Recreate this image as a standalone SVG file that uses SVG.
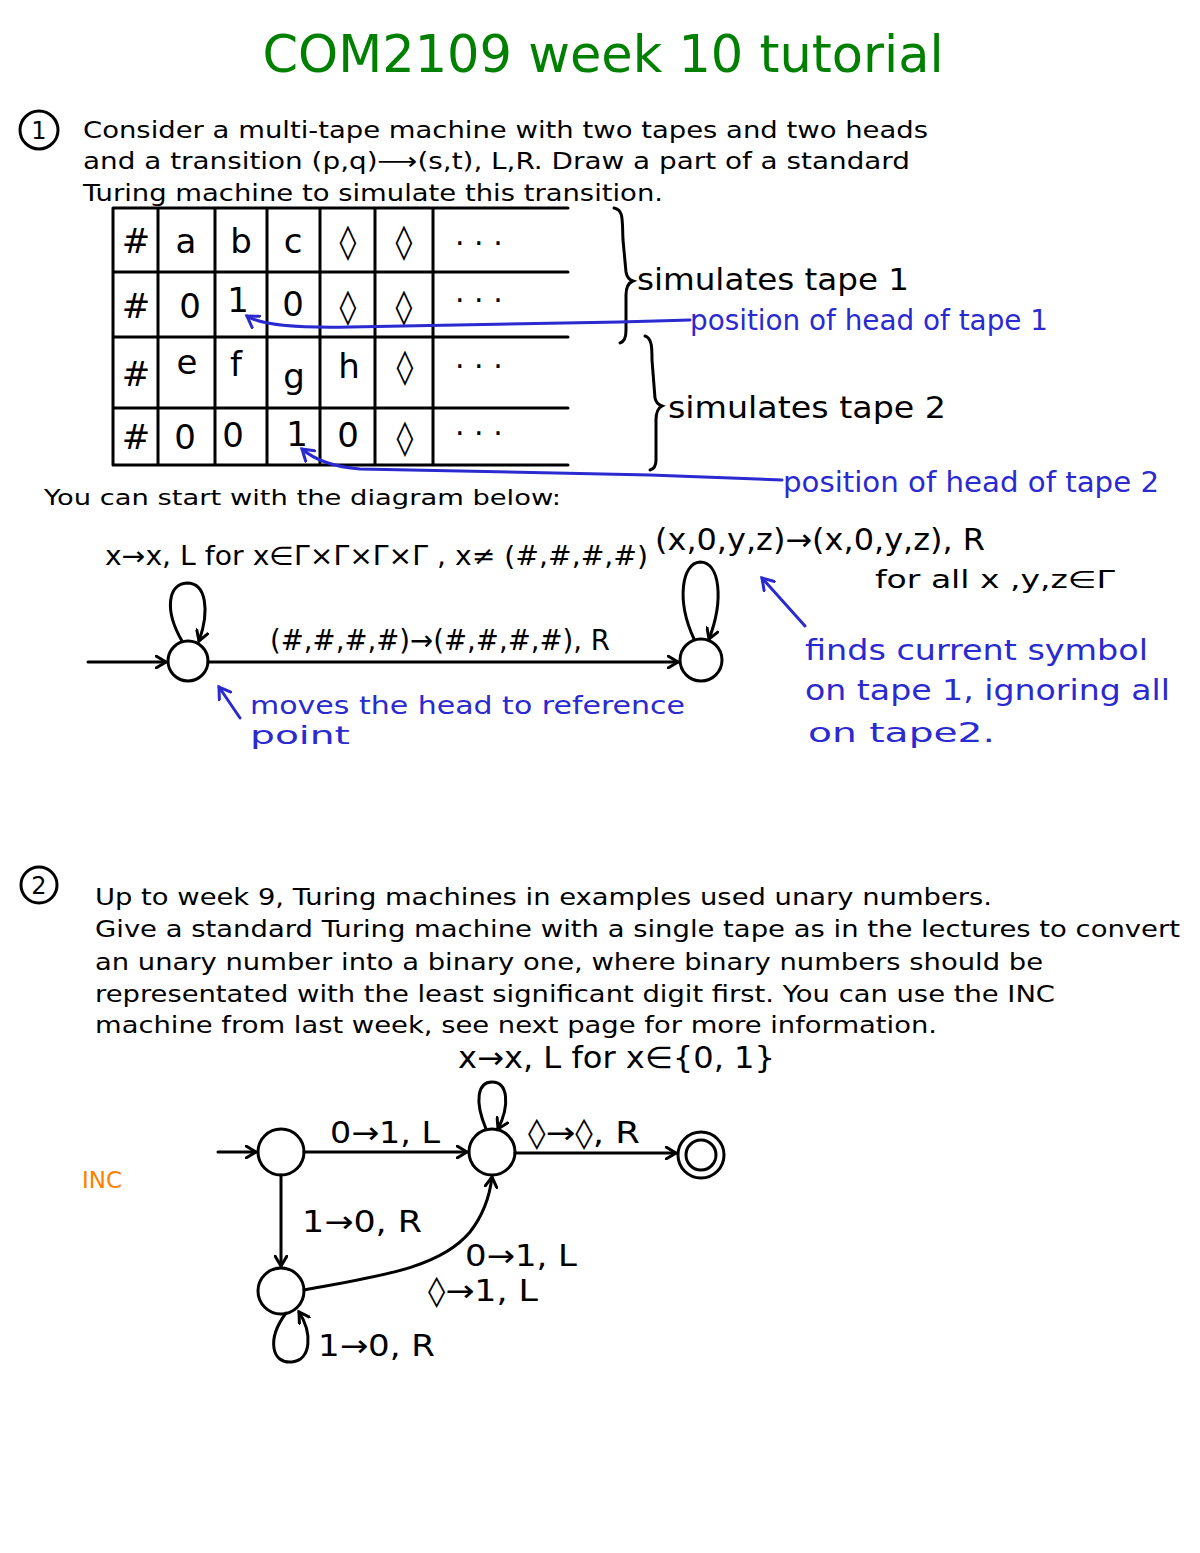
<svg xmlns="http://www.w3.org/2000/svg" width="1200" height="1553" viewBox="0 0 1200 1553">
<style>
.t{font-family:"DejaVu Sans","Liberation Sans",sans-serif;fill:#000}
.q{font-size:23.5px}
.h{font-family:"DejaVu Sans","Liberation Sans",sans-serif;fill:#000}
.b{font-family:"DejaVu Sans","Liberation Sans",sans-serif;fill:#2a2ad0}
.ln{stroke:#000;stroke-width:3;fill:none;stroke-linecap:round}
.bl{stroke:#2a2ad0;stroke-width:3;fill:none;stroke-linecap:round}
.st{stroke:#000;stroke-width:3;fill:#fff}
.cell{font-size:34px;text-anchor:middle}
</style>
<defs>
<marker id="ah" markerWidth="14" markerHeight="14" refX="11" refY="7" orient="auto" markerUnits="userSpaceOnUse">
<path d="M1,1 L11,7 L1,13" fill="none" stroke="#000" stroke-width="3" stroke-linecap="round"/>
</marker>
<marker id="ahb" markerWidth="16" markerHeight="16" refX="12" refY="8" orient="auto" markerUnits="userSpaceOnUse">
<path d="M1,1 L12,8 L1,15" fill="none" stroke="#2a2ad0" stroke-width="3" stroke-linecap="round"/>
</marker>
</defs>
<rect width="1200" height="1553" fill="#fff"/>

<g id="title"><text x="603" y="72" text-anchor="middle" class="t" style="font-size:51px;fill:#008000">COM2109 week 10 tutorial</text></g>

<g id="q1-number"><circle cx="39" cy="130" r="19" fill="none" stroke="#000" stroke-width="3"/><text x="39" y="139" text-anchor="middle" class="t" style="font-size:24px">1</text></g>
<g id="q1-text" class="t q">
<text x="83" y="138" textLength="845" lengthAdjust="spacingAndGlyphs">Consider a multi-tape machine with two tapes and two heads</text>
<text x="83" y="169" textLength="827" lengthAdjust="spacingAndGlyphs">and a transition (p,q)⟶(s,t), L,R.  Draw a part of a standard</text>
<text x="83" y="201" textLength="580" lengthAdjust="spacingAndGlyphs">Turing machine to simulate this transition.</text>
</g>

<g id="tape-table">
<path class="ln" d="M113,208 H568 M113,272 H568 M113,337 H568 M113,408 H568 M113,465 H568 M113,208 V465 M158,208 V465 M215,208 V465 M267,208 V465 M320,208 V465 M375,208 V465 M433,208 V465"/>
<g class="h cell">
<text x="136" y="253">#</text><text x="186" y="253">a</text><text x="241" y="253">b</text><text x="293" y="253">c</text><text x="348" y="253">◊</text><text x="404" y="253">◊</text>
<text x="136" y="318">#</text><text x="190" y="318">0</text><text x="238" y="312">1</text><text x="293" y="316">0</text><text x="348" y="318">◊</text><text x="404" y="318">◊</text>
<text x="136" y="386">#</text><text x="187" y="374">e</text><text x="236" y="376">f</text><text x="294" y="388">g</text><text x="349" y="378">h</text><text x="405" y="378">◊</text>
<text x="136" y="449">#</text><text x="185" y="449">0</text><text x="233" y="447">0</text><text x="297" y="446">1</text><text x="348" y="447">0</text><text x="405" y="449">◊</text>
</g>
<g class="h" style="font-size:30px"><text x="455" y="245">. . .</text><text x="455" y="302">. . .</text><text x="455" y="368">. . .</text><text x="455" y="435">. . .</text></g>
</g>

<g id="brace-tape1">
<path class="ln" d="M614,208 C624,210 622,220 623,240 L626,272 C627,278 630,280 633,281 C628,283 626,288 626,295 L626,330 C626,338 624,342 620,343"/>
<text x="637" y="290" class="h" style="font-size:30px" textLength="272" lengthAdjust="spacingAndGlyphs">simulates tape 1</text>
</g>
<g id="brace-tape2">
<path class="ln" d="M645,336 C652,338 652,348 652,360 L655,398 C656,403 659,405 662,406 C658,408 656,412 656,420 L656,460 C656,466 654,469 650,470"/>
<text x="668" y="418" class="h" style="font-size:30px" textLength="278" lengthAdjust="spacingAndGlyphs">simulates tape 2</text>
</g>

<g id="label-head1"><text x="690" y="330" class="b" style="font-size:28px" textLength="358" lengthAdjust="spacingAndGlyphs">position of head of tape 1</text></g>
<g id="label-head2"><text x="783" y="492" class="b" style="font-size:28px" textLength="376" lengthAdjust="spacingAndGlyphs">position of head of tape 2</text></g>

<g id="q1-start-text"><text x="44" y="505" class="t" style="font-size:22px" textLength="517" lengthAdjust="spacingAndGlyphs">You can start with the diagram below:</text></g>

<g id="state-q0"><circle cx="188" cy="661" r="20" class="st"/></g>
<g id="state-q1"><circle cx="701" cy="660" r="21" class="st"/></g>

<g id="labels-d1" class="h">
<text x="105" y="565" style="font-size:26px" textLength="543" lengthAdjust="spacingAndGlyphs">x→x, L for x∈Γ×Γ×Γ×Γ , x≠ (#,#,#,#)</text>
<text x="270" y="650" style="font-size:28px" textLength="340" lengthAdjust="spacingAndGlyphs">(#,#,#,#)→(#,#,#,#), R</text>
<text x="655" y="550" style="font-size:30px" textLength="330" lengthAdjust="spacingAndGlyphs">(x,0,y,z)→(x,0,y,z), R</text>
<text x="875" y="588" style="font-size:24px" textLength="240" lengthAdjust="spacingAndGlyphs">for all x ,y,z∈Γ</text>
</g>
<g id="note-moves" class="b" style="font-size:25px">
<text x="250" y="714" textLength="435" lengthAdjust="spacingAndGlyphs">moves the head to reference</text>
<text x="250" y="744" textLength="100" lengthAdjust="spacingAndGlyphs">point</text>
</g>
<g id="note-finds" class="b" style="font-size:29px">
<text x="805" y="660" textLength="343" lengthAdjust="spacingAndGlyphs">finds current symbol</text>
<text x="805" y="700" textLength="365" lengthAdjust="spacingAndGlyphs">on tape 1, ignoring all</text>
<text x="808" y="742" textLength="187" lengthAdjust="spacingAndGlyphs" style="font-size:27px">on tape2.</text>
</g>

<g id="q2-number"><circle cx="39" cy="885" r="18" fill="none" stroke="#000" stroke-width="3"/><text x="39" y="894" text-anchor="middle" class="t" style="font-size:24px">2</text></g>
<g id="q2-text" class="t q">
<text x="95" y="905" textLength="897" lengthAdjust="spacingAndGlyphs">Up to week 9, Turing machines in examples used unary numbers.</text>
<text x="95" y="937" textLength="1085" lengthAdjust="spacingAndGlyphs">Give a standard Turing machine with a single tape as in the lectures to convert</text>
<text x="95" y="970" textLength="948" lengthAdjust="spacingAndGlyphs">an unary number into a binary one, where binary numbers should be</text>
<text x="95" y="1002" textLength="960" lengthAdjust="spacingAndGlyphs">representated with the least significant digit first. You can use the INC</text>
<text x="95" y="1033" textLength="842" lengthAdjust="spacingAndGlyphs">machine from last week, see next page for more information.</text>
</g>

<g id="inc-label"><text x="82" y="1188" class="t" style="font-size:23px;fill:#ff7f00">INC</text></g>

<g id="state-a"><circle cx="281" cy="1152" r="23" class="st"/></g>
<g id="state-b"><circle cx="492" cy="1152" r="23" class="st"/></g>
<g id="state-final"><circle cx="701" cy="1155" r="23" class="st"/><circle cx="701" cy="1155" r="15" fill="none" stroke="#000" stroke-width="3"/></g>
<g id="state-c"><circle cx="281" cy="1291" r="23" class="st"/></g>

<g id="labels-d2" class="h">
<text x="458" y="1068" style="font-size:30px" textLength="317" lengthAdjust="spacingAndGlyphs">x→x, L for x∈{0, 1}</text>
<text x="330" y="1143" style="font-size:30px" textLength="110" lengthAdjust="spacingAndGlyphs">0→1, L</text>
<text x="528" y="1143" style="font-size:30px" textLength="112" lengthAdjust="spacingAndGlyphs">◊→◊, R</text>
<text x="302" y="1232" style="font-size:30px" textLength="120" lengthAdjust="spacingAndGlyphs">1→0, R</text>
<text x="465" y="1266" style="font-size:30px" textLength="112" lengthAdjust="spacingAndGlyphs">0→1, L</text>
<text x="428" y="1301" style="font-size:30px" textLength="110" lengthAdjust="spacingAndGlyphs">◊→1, L</text>
<text x="318" y="1356" style="font-size:30px" textLength="117" lengthAdjust="spacingAndGlyphs">1→0, R</text>
</g>

<g id="connectors">
<path class="ln" d="M88,662 L166,662" marker-end="url(#ah)"/>
<path class="ln" d="M182,641 C164,610 168,584 187,583 C206,583 210,610 199,641" marker-end="url(#ah)"/>
<path class="ln" d="M208,662 L678,662" marker-end="url(#ah)"/>
<path class="ln" d="M694,639 C676,600 682,563 700,562 C720,562 724,600 709,639" marker-end="url(#ah)"/>
<path class="bl" d="M690,320 L620,322 L350,327 C300,328 262,326 247,316" marker-end="url(#ahb)"/>
<path class="bl" d="M782,480 L650,475 L360,469 C335,467 316,461 302,449" marker-end="url(#ahb)"/>
<path class="bl" d="M240,718 L219,687" marker-end="url(#ahb)"/>
<path class="bl" d="M805,626 L762,578" marker-end="url(#ahb)"/>
<path class="ln" d="M218,1152 L256,1152" marker-end="url(#ah)"/>
<path class="ln" d="M304,1152 L467,1152" marker-end="url(#ah)"/>
<path class="ln" d="M486,1129 C474,1100 478,1082 492,1082 C508,1082 510,1105 498,1129" marker-end="url(#ah)"/>
<path class="ln" d="M515,1153 L676,1153" marker-end="url(#ah)"/>
<path class="ln" d="M281,1175 L281,1266" marker-end="url(#ah)"/>
<path class="ln" d="M304,1290 C380,1276 440,1268 470,1232 C484,1214 490,1194 492,1177" marker-end="url(#ah)"/>
<path class="ln" d="M286,1313 C266,1340 272,1364 292,1362 C312,1360 312,1332 299,1312" marker-end="url(#ah)"/>
</g>
</svg>
